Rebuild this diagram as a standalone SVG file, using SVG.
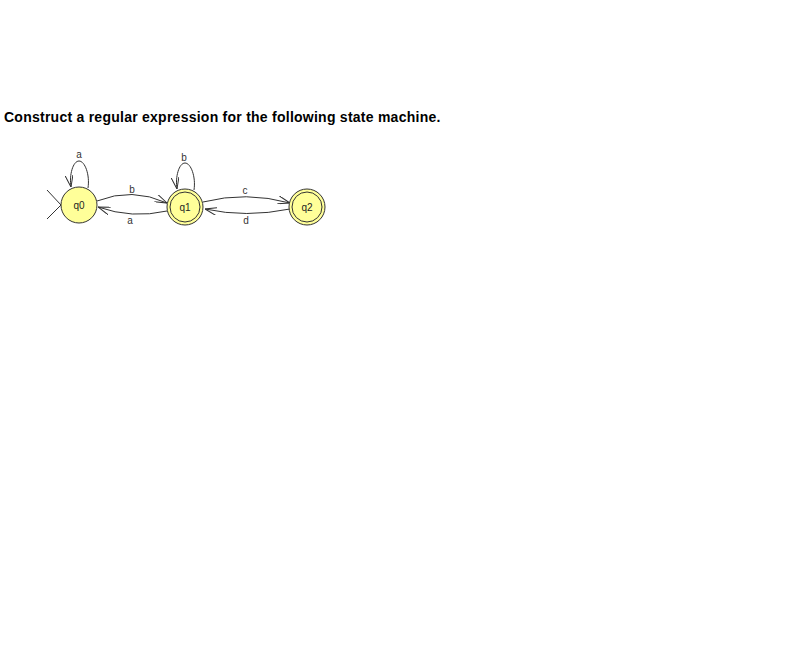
<svg xmlns="http://www.w3.org/2000/svg" width="812" height="654" viewBox="0 0 812 654">
<defs>
<style>
.title{font-family:"Liberation Sans",Arial,sans-serif;font-weight:bold;font-size:14px;letter-spacing:0.25px;fill:#000}
.lbl{font-family:"Liberation Sans",Arial,sans-serif;font-size:10px;fill:#333;text-anchor:middle}
.st{fill:#ffff99;stroke:#333;stroke-width:1}
.in{fill:none;stroke:#333;stroke-width:1}
.sl{font-family:"Liberation Sans",Arial,sans-serif;font-size:10px;fill:#222;text-anchor:middle}
.e{fill:none;stroke:#333;stroke-width:1}
</style>
<marker id="arr" viewBox="0 0 12 8" refX="12" refY="4" markerWidth="12" markerHeight="8" markerUnits="userSpaceOnUse" orient="auto">
<path d="M0,0 L12,4 L0,8" fill="none" stroke="#333" stroke-width="1"/>
</marker>
</defs>
<rect width="812" height="654" fill="#fff"/>
<text class="title" x="4" y="122">Construct a regular expression for the following state machine.</text>
<g id="connectors">
<path class="e" d="M47,190 L61,205 L47,219"/>
<path class="e" d="M88,188 C90,175 85,161 79,161 C73,161 69,175 71,187" marker-end="url(#arr)"/>
<text class="lbl" x="79" y="158">a</text>
<path class="e" d="M97,201 Q132,187 167,203" marker-end="url(#arr)"/>
<text class="lbl" x="132" y="193">b</text>
<path class="e" d="M167,211 Q132,219 98,207" marker-end="url(#arr)"/>
<text class="lbl" x="130" y="224">a</text>
<path class="e" d="M194,190 C196,177 191,163 185,163 C179,163 175,177 177,189" marker-end="url(#arr)"/>
<text class="lbl" x="184" y="161">b</text>
<path class="e" d="M203,202 Q246,191 290,203" marker-end="url(#arr)"/>
<text class="lbl" x="245" y="194">c</text>
<path class="e" d="M290,209 Q246,218 205,209" marker-end="url(#arr)"/>
<text class="lbl" x="246" y="224">d</text>
</g>
<g id="q0">
<circle class="st" cx="79" cy="205" r="18"/>
<text class="sl" x="79" y="209">q0</text>
</g>
<g id="q1">
<circle class="st" cx="185" cy="207" r="18"/>
<circle class="in" cx="185" cy="207" r="15"/>
<text class="sl" x="185" y="211">q1</text>
</g>
<g id="q2">
<circle class="st" cx="307" cy="207" r="18"/>
<circle class="in" cx="307" cy="207" r="15"/>
<text class="sl" x="307" y="211">q2</text>
</g>
</svg>
